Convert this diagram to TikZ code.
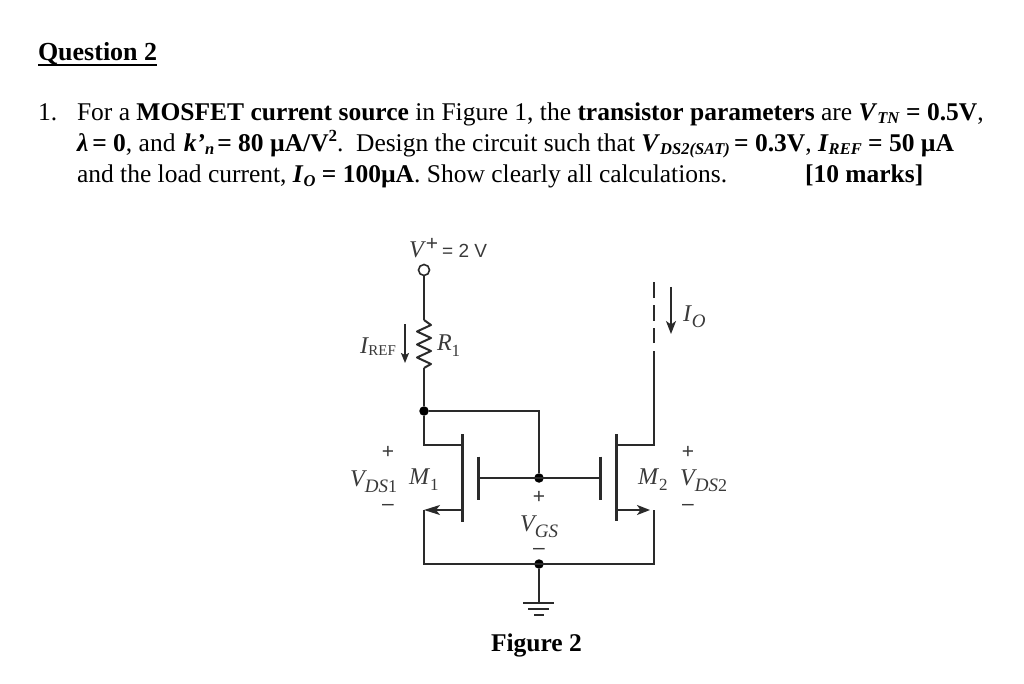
\documentclass[tikz,border=0pt]{standalone}
\usepackage{fontspec}
\setmainfont{Liberation Serif}
\newfontfamily\labsans{Liberation Sans}
\usetikzlibrary{arrows.meta}
\definecolor{circ}{HTML}{2A2A2A}
\definecolor{lab}{HTML}{3A3A3A}
\tikzset{
  qtext/.style={anchor=base west,inner sep=0pt,outer sep=0pt,font=\fontsize{25.5}{28}\selectfont,text=black},
  wire/.style={draw=circ,line width=2pt},
  plate/.style={draw=circ,line width=3pt},
  dot/.style={circle,fill=black,inner sep=0pt,minimum size=9.5pt},
  clab/.style={inner sep=0pt,outer sep=0pt,text=lab,font=\fontsize{24}{26}\selectfont},
  sgn/.style={inner sep=0pt,outer sep=0pt,text=lab,font=\labsans\fontsize{21}{23}\selectfont},
  tipa/.style={-{Stealth[length=16pt,width=10pt,inset=4pt]}},
  tipb/.style={-{Stealth[length=13pt,width=10pt,inset=3.5pt]}},
  tipc/.style={-{Stealth[length=10pt,width=8pt,inset=2pt]}},
}
\newcommand{\lsub}[1]{\raisebox{-0.12em}{\fontsize{16.5}{18}\selectfont\textbf{\textit{#1}}}}
\newcommand{\csub}[1]{\raisebox{-0.28em}{\fontsize{19}{21}\selectfont\textit{#1}}}
\newcommand{\rsub}[1]{\raisebox{-0.28em}{\fontsize{17}{20}\selectfont #1}}
\begin{document}
\begin{tikzpicture}[x=1pt,y=-1pt]
\useasboundingbox[fill=white] (0,0) rectangle (1024,684);
% text
\node[qtext,font=\fontsize{26}{28}\selectfont\bfseries] (title) at (38,61) {Question 2};
\draw[line width=2pt] (title.south west |- 0,65.5) -- (title.south east |- 0,65.5);
\node[qtext] (num) at (38,120.5) {1.};
\node[qtext] (l1) at (77,120.5) {For a \textbf{MOSFET current source} in Figure 1, the \textbf{transistor parameters} are \textbf{\textit{V}}\lsub{TN} \textbf{= 0.5V},};
\node[qtext] (l2) at (77,151.5) {\textbf{\textit{λ}\kern4pt= 0}, and \kern2pt\textbf{\textit{k’}}\lsub{n}\kern3pt\textbf{= 80 µA/V\raisebox{0.4em}{\fontsize{17}{18}\selectfont 2}}. \kern4pt Design the circuit such that \textbf{\textit{V}}\lsub{DS2(SAT)}\,\textbf{= 0.3V}, \textbf{\textit{I}}\lsub{REF} \textbf{= 50 µA}};
\node[qtext] (l3) at (77,183) {and the load current, \textbf{\textit{I}}\lsub{O} \textbf{= 100µA}. Show clearly all calculations.};
\node[qtext] (marks) at (805,183) {\textbf{[10 marks]}};
\node[qtext,font=\fontsize{25.5}{28}\selectfont\bfseries] (fig) at (491,651) {Figure 2};
% circuit coordinates
\coordinate (rtop) at (424,320);
\coordinate (rbot) at (424,368);
\coordinate (d1) at (424,445);
\coordinate (ch1d) at (462,445);
\coordinate (ch1s) at (462,510);
\coordinate (s1) at (424,510);
\coordinate (b1) at (424,564);
\coordinate (top) at (539,411);
\coordinate (g1) at (478,478);
\coordinate (g2) at (600,478);
\coordinate (ch2d) at (616,445);
\coordinate (ch2s) at (616,510);
\coordinate (d2) at (654,445);
\coordinate (s2) at (654,510);
\coordinate (s2tip) at (650,510);
\coordinate (b2) at (654,564);
\coordinate (dtop) at (654,351);
\coordinate (dash1) at (654,343);
\coordinate (dash2) at (654,282);
\coordinate (gnd) at (539,603);
% nodes
\node[circle,draw=circ,line width=1.6pt,fill=white,inner sep=0pt,minimum size=11pt] (vdd) at (424,270) {};
\node[dot] (jr) at (424,411) {};
\node[dot] (jg) at (539,478) {};
\node[dot] (js) at (539,564) {};
% wires
\draw[wire] (vdd) -- (rtop);
\draw[wire,line join=round] (rtop) -- ++(7,5) -- ++(-14,6.5) -- ++(14,6.5) -- ++(-14,6.5) -- ++(14,6.5) -- ++(-14,6.5) -- ++(14,6.5) -- (rbot);
\draw[wire] (rbot) -- (jr);
\draw[wire] (jr) -- (d1) -- (ch1d);
\draw[wire] (jr) -- (top) -- (jg);
\draw[wire] (g1) -- (g2);
\draw[wire,line join=miter] (s1) -- (b1) -- (b2) -- (s2);
\draw[wire] (js) -- (gnd);
\draw[wire] (ch2d) -- (d2) -- (dtop);
\draw[wire,dash pattern=on 15.5pt off 7pt] (dash1) -- (dash2);
\draw[wire,tipa] (ch1s) -- (s1);
\draw[wire,tipb] (ch2s) -- (s2tip);
\draw[plate] (462,434) -- (462,522);
\draw[plate] (478,456.5) -- (478,499.5);
\draw[plate] (600,456.5) -- (600,499.5);
\draw[plate] (616,434) -- (616,521);
% ground
\draw[draw=circ,line width=2.6pt] (523,603) -- (554,603);
\draw[draw=circ,line width=2pt] (528,609) -- (549,609);
\draw[draw=circ,line width=2.6pt] (534,615) -- (544,615);
% current arrows
\coordinate (iref1) at (405,324);
\coordinate (iref2) at (405,363);
\draw[draw=circ,line width=1.5pt,tipc] (iref1) -- (iref2);
\coordinate (io1) at (671,287);
\coordinate (io2) at (671,334);
\draw[draw=circ,line width=1.5pt,tipb] (io1) -- (io2);
% labels
\node[clab,anchor=base west] (lv) at (409,258) {\textit{V}\raisebox{0.3em}{\fontsize{21}{22}\selectfont\labsans +}\,\labsans\fontsize{19}{20}\selectfont = 2 V};
\node[clab,anchor=base west] (lref) at (360,353) {\textit{I}\kern-0.5pt\raisebox{-0.1em}{\fontsize{15}{17}\selectfont REF}};
\node[clab,anchor=base west] (lr1) at (437,350) {\textit{R}\rsub{1}};
\node[clab,anchor=base west] (lio) at (683,321) {\textit{I}\csub{O}};
\node[sgn] (p1) at (388,452) {+};
\node[clab,anchor=base west] (lvds1) at (350,486) {\textit{V}\kern-2pt\csub{DS}\rsub{\fontsize{18}{20}\selectfont 1}};
\node[sgn] (m1) at (388,507) {–};
\node[clab,anchor=base west] (lm1) at (409,484) {\textit{M}\rsub{1}};
\node[sgn] (p2) at (688,452) {+};
\node[clab,anchor=base west] (lvds2) at (680,485) {\textit{V}\kern-2pt\csub{DS}\rsub{\fontsize{18}{20}\selectfont 2}};
\node[sgn] (m2) at (688,507) {–};
\node[clab,anchor=base west] (lm2) at (638,484) {\textit{M}\rsub{2}};
\node[sgn] (p3) at (539,497) {+};
\node[clab,anchor=base west] (lvgs) at (520,531) {\textit{V}\kern-2pt\csub{GS}};
\node[sgn] (m3) at (539,551) {–};
\end{tikzpicture}
\end{document}
